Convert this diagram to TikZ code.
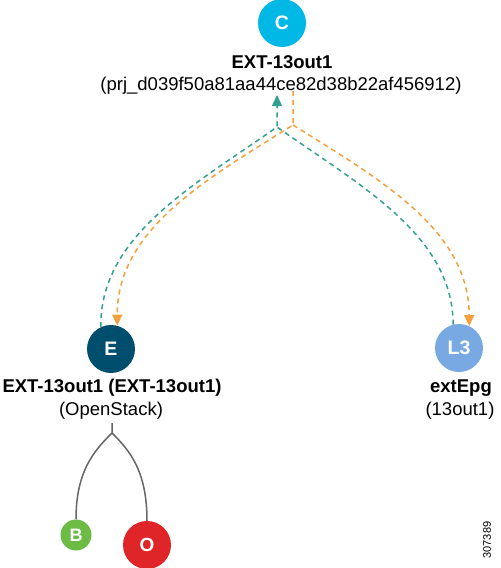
\documentclass[tikz,border=0pt]{standalone}
\usepackage{fontspec}
\setmainfont{Liberation Sans}
\usetikzlibrary{arrows.meta}
\definecolor{cC}{HTML}{00B8E6}
\definecolor{cE}{HTML}{004E6E}
\definecolor{cL}{HTML}{78A9E2}
\definecolor{cB}{HTML}{6CBB45}
\definecolor{cO}{HTML}{E02528}
\definecolor{cTeal}{HTML}{33A091}
\definecolor{cOrange}{HTML}{F5A03C}
\definecolor{cGray}{HTML}{666666}
\tikzset{
  obj/.style={circle, inner sep=0pt, minimum size=48pt, text=white,
    font=\fontsize{19.5}{19.5}\selectfont\bfseries},
  lab/.style={anchor=base, inner sep=0pt, font=\fontsize{18.5}{22}\selectfont},
  blab/.style={lab, font=\fontsize{18.5}{22}\selectfont\bfseries},
  tealdash/.style={draw=cTeal, line width=1.5pt, dash pattern=on 5pt off 4pt},
  orangedash/.style={draw=cOrange, line width=1.5pt, dash pattern=on 5pt off 4pt},
  tip/.style={-{Triangle[length=11pt,width=10pt]}},
  tree/.style={draw=cGray, line width=1.5pt}
}
\begin{document}
\begin{tikzpicture}[x=1pt,y=-1pt]
\useasboundingbox (0,0) rectangle (501,568);
% nodes
\node[obj, fill=cC] (C) at (282,23) {C};
\node[blab] (Clab1) at (282,68.5) {EXT-13out1};
\node[lab] (Clab2) at (281,90.5) {(prj\_d039f50a81aa44ce82d38b22af456912)};
\node[obj, fill=cE] (E) at (111,349) {E};
\node[blab] (Elab1) at (112,392) {EXT-13out1 (EXT-13out1)};
\node[lab] (Elab2) at (111,415) {(OpenStack)};
\node[obj, fill=cL] (L) at (459,348) {L3};
\node[blab] (Llab1) at (461,392) {extEpg};
\node[lab] (Llab2) at (460,415) {(13out1)};
\node[obj, fill=cB, minimum size=31pt, font=\fontsize{18}{18}\selectfont\bfseries] (B) at (76,535) {B};
\node[obj, fill=cO, font=\fontsize{19}{19}\selectfont\bfseries] (O) at (147,545) {O};
\node[rotate=90, inner sep=0pt, font=\fontsize{11}{12}\selectfont] (stamp) at (487,540) {307389};
% coordinates
\coordinate (Ctip) at (277,95);
\coordinate (Cj) at (277,127);
\coordinate (Os) at (293,91);
\coordinate (Oj) at (293,125);
\coordinate (Tt) at (112,423);
\coordinate (Tj) at (112,433);
% teal
\draw[tealdash, tip] (E.115) .. controls (100,235) and (195,185) .. (Cj) -- (Ctip);
\draw[tealdash] (L.104) .. controls (453,235) and (359,185) .. (Cj);
% orange
\draw[orangedash, tip] (Os) -- (Oj) .. controls (205,180) and (117,230) .. (E.75);
\draw[orangedash, tip] (Oj) .. controls (381,180) and (469,230) .. (L.65);
% tree
\draw[tree] (Tt) -- (Tj) .. controls (95,450) and (76,470) .. (B.north);
\draw[tree] (Tj) .. controls (129,450) and (147,470) .. (O.north);
\end{tikzpicture}
\end{document}
